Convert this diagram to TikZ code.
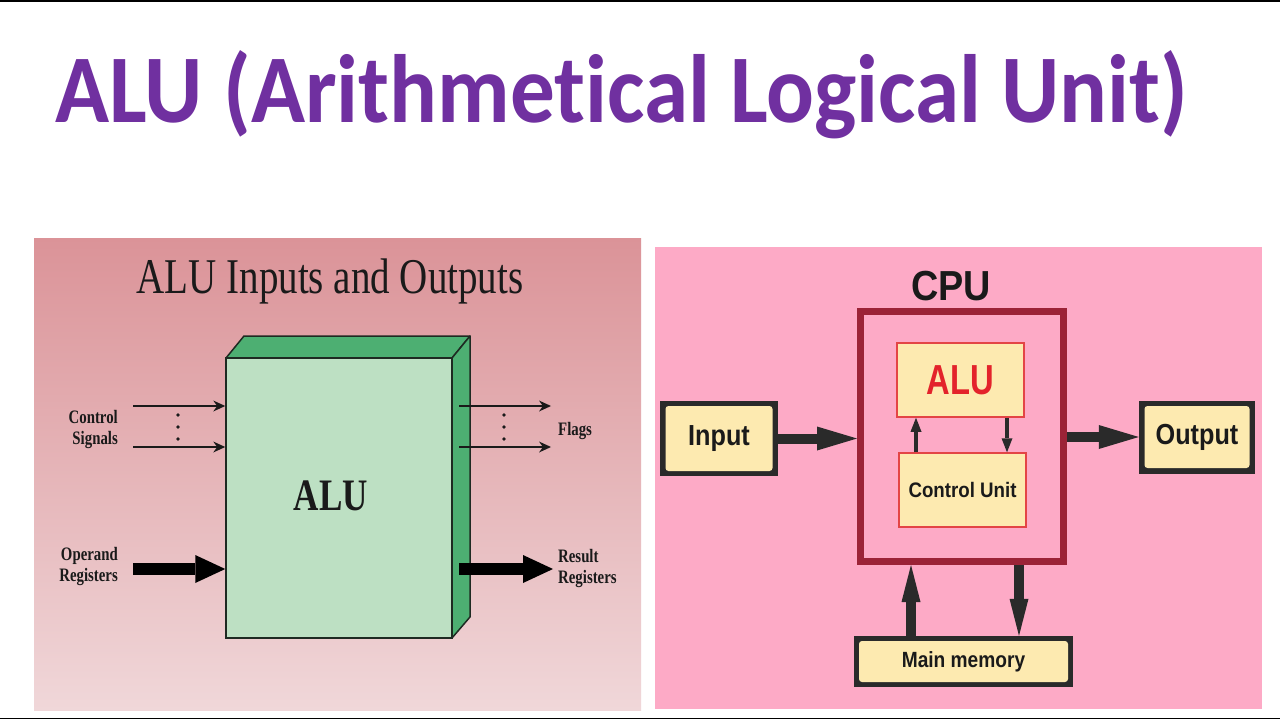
\documentclass[tikz,border=0pt]{standalone}
\usepackage{fontspec}
\usepackage{graphicx}
\setmainfont{Liberation Serif}
\newfontfamily\calib[Ligatures=NoCommon]{Carlito}
\newfontfamily\arialf{Liberation Sans}
\usetikzlibrary{arrows.meta}
\definecolor{ttl}{HTML}{7030A0}
\definecolor{lpTop}{HTML}{DB9398}
\definecolor{lpBot}{HTML}{F0D7D9}
\definecolor{rpink}{HTML}{FDAAC6}
\definecolor{cpured}{HTML}{9B2337}
\definecolor{yel}{HTML}{FDEAB0}
\definecolor{alured}{HTML}{E3232B}
\definecolor{yedge}{HTML}{E34545}
\definecolor{darkb}{HTML}{2A2A2A}
\definecolor{gfront}{HTML}{BDE0C3}
\definecolor{gtop}{HTML}{4DAF72}
\definecolor{gedge}{HTML}{1E2A22}
\definecolor{ink}{HTML}{1A1A1A}
\newcommand{\lsx}[1]{\scalebox{0.78}[1]{#1}}
\newcommand{\rsx}[1]{\scalebox{0.87}[1]{#1}}
\begin{document}
\begin{tikzpicture}[x=1pt,y=-1pt,
  lbl/.style={inner sep=0, text=ink, font=\bfseries\fontsize{19}{21}\selectfont},
  thinarrow/.style={draw=ink, line width=1.8, -{Stealth[length=12pt,width=11pt,line width=0pt]}},
  bigarrow/.style={draw=black, line width=12, -{Triangle[length=30pt,width=28pt,line width=0pt]}},
  cpuarrow/.style={draw=darkb, line width=10, -{Triangle[length=40pt,width=24pt,line width=0pt]}},
  memarrow/.style={draw=darkb, line width=10, -{Triangle[length=37pt,width=19pt,line width=0pt]}},
  smallarrow/.style={draw=darkb, line width=4, -{Triangle[length=14pt,width=11pt,line width=0pt]}},
  darkbox/.style={fill=darkb, inner sep=0},
  yelbox/.style={fill=yel, rounded corners=3, inner sep=0, text=ink, font=\arialf\bfseries\fontsize{29}{32}\selectfont},
  inbox/.style={fill=yel, draw=yedge, line width=1.5, inner sep=0, minimum width=127, minimum height=74},
  dots/.style={fill=ink}
]
\useasboundingbox (0,0) rectangle (1280,720);
\fill[white] (0,0) rectangle (1280,720);
\draw[black, line width=1.5] (0,0.75) -- (1280,0.75);
\draw[black, line width=1.5] (0,718.5) -- (1280,718.5);

% title
\node[anchor=base west, inner sep=0, text=ttl, font=\calib\bfseries\fontsize{97}{105}\selectfont] (title) at (55,122) {\resizebox{1133pt}{\height}{ALU (Arithmetical Logical Unit)}};

% ---------- left panel ----------
\shade[top color=lpTop, bottom color=lpBot] (34,238) rectangle (641,710);
\node[anchor=base, inner sep=0, text=ink, font=\fontsize{50}{55}\selectfont] (ltitle) at (330,293) {\lsx{ALU Inputs and Outputs}};

\fill[gtop, draw=gedge, line width=1.5, line join=round] (226,358) -- (244,336) -- (470,336) -- (452,358) -- cycle;
\fill[gtop, draw=gedge, line width=1.5, line join=round] (452,358) -- (470,336) -- (470,617) -- (452,638) -- cycle;
\node[draw=gedge, fill=gfront, line width=1.5, inner sep=0, minimum width=226, minimum height=280] (alu) at (339,498) {};
\node[anchor=base, inner sep=0, text=ink, font=\bfseries\fontsize{45}{50}\selectfont] (alutxt) at (331,510) {\lsx{ALU}};

\coordinate (cs1) at (133,406);
\coordinate (cs2) at (133,447);
\draw[thinarrow] (cs1) -- (cs1 -| alu.west);
\draw[thinarrow] (cs2) -- (cs2 -| alu.west);
\foreach \yy in {415,427,439} \fill[dots] (178,\yy) circle (1.8);

\coordinate (fs1) at (459,406); \coordinate (fe1) at (551,406);
\coordinate (fs2) at (459,447); \coordinate (fe2) at (551,447);
\draw[thinarrow] (fs1) -- (fe1);
\draw[thinarrow] (fs2) -- (fe2);
\foreach \yy in {415,427,439} \fill[dots] (504,\yy) circle (1.8);

\coordinate (op) at (133,569);
\draw[bigarrow] (op) -- (op -| alu.west);
\coordinate (rs) at (459,569); \coordinate (re) at (553,569);
\draw[bigarrow] (rs) -- (re);

\node[lbl, anchor=base east] (ctl) at (118,423) {\lsx{Control}};
\node[lbl, anchor=base east] (sig) at (118,444) {\lsx{Signals}};
\node[lbl, anchor=base east] (opr) at (118,560) {\lsx{Operand}};
\node[lbl, anchor=base east] (reg1) at (118,581) {\lsx{Registers}};
\node[lbl, anchor=base west] (flg) at (558,435) {\lsx{Flags}};
\node[lbl, anchor=base west] (res) at (558,562) {\lsx{Result}};
\node[lbl, anchor=base west] (reg2) at (558,583) {\lsx{Registers}};

% ---------- right panel ----------
\fill[rpink] (655,247) rectangle (1262,709);
\node[anchor=base, inner sep=0, text=ink, font=\arialf\bfseries\fontsize{42}{46}\selectfont] (cputxt) at (951,300) {\scalebox{0.9}[1]{CPU}};
\node[draw=cpured, line width=7, inner sep=0, minimum width=203, minimum height=250] (cpu) at (962,436.5) {};

\node[inbox, text=alured, font=\arialf\bfseries\fontsize{42}{46}\selectfont] (ralu) at (960.5,380) {\scalebox{0.78}[1]{ALU}};
\node[inbox, text=ink, font=\arialf\bfseries\fontsize{21}{24}\selectfont] (cu) at (962.5,490) {\scalebox{0.89}[1]{Control Unit}};
\coordinate (ua) at (916,0);
\coordinate (da) at (1007,0);
\draw[smallarrow] (cu.north -| ua) -- (ralu.south -| ua);
\draw[smallarrow] (ralu.south -| da) -- (cu.north -| da);

\node[darkbox, minimum width=118, minimum height=75] (in) at (719,438.5) {};
\node[yelbox, minimum width=107, minimum height=65] (intxt) at (in.center) {\rsx{Input}};
\node[darkbox, minimum width=116, minimum height=73] (out) at (1197,437) {};
\node[yelbox, minimum width=105, minimum height=62] (outtxt) at (out.center) {\rsx{Output}};
\node[darkbox, minimum width=219, minimum height=51] (mem) at (963.5,661.5) {};
\node[yelbox, minimum width=209, minimum height=41, font=\arialf\bfseries\fontsize{22}{24}\selectfont] (memtxt) at (mem.center) {\rsx{Main memory}};

\draw[cpuarrow] (in.east) -- (in.east -| cpu.west);
\draw[cpuarrow] (out.west -| cpu.east) -- (out.west);
\coordinate (mu) at (911,0);
\coordinate (md) at (1019,0);
\draw[memarrow] (mem.north -| mu) -- (cpu.south -| mu);
\draw[memarrow] (cpu.south -| md) -- (mem.north -| md);
\end{tikzpicture}
\end{document}
